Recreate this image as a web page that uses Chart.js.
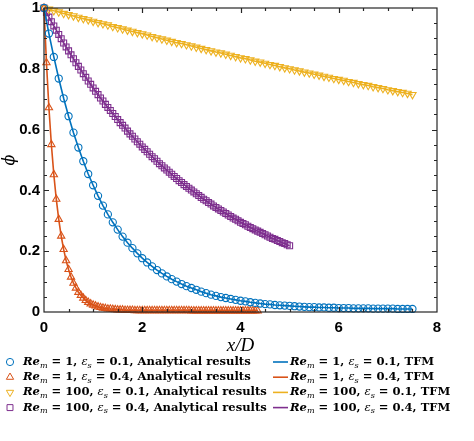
<!DOCTYPE html>
<html>
<head>
<meta charset="utf-8">
<script src="https://cdn.jsdelivr.net/npm/chart.js@4.4.1/dist/chart.umd.min.js"></script>
<style>
  html, body { margin: 0; padding: 0; background: #fff; }
  #wrap { position: relative; width: 474px; height: 441px; }
</style>
</head>
<body>
<div id="wrap"><canvas id="phiChart"></canvas></div>
<script>
// x/D sample points (0.1 step up to 7.5, 0.05 step up to 5)
const xGridA = [
  0, 0.1, 0.2, 0.3, 0.4, 0.5, 0.6, 0.7, 0.8, 0.9,
  1.0, 1.1, 1.2, 1.3, 1.4, 1.5, 1.6, 1.7, 1.8, 1.9,
  2.0, 2.1, 2.2, 2.3, 2.4, 2.5, 2.6, 2.7, 2.8, 2.9,
  3.0, 3.1, 3.2, 3.3, 3.4, 3.5, 3.6, 3.7, 3.8, 3.9,
  4.0, 4.1, 4.2, 4.3, 4.4, 4.5, 4.6, 4.7, 4.8, 4.9,
  5.0, 5.1, 5.2, 5.3, 5.4, 5.5, 5.6, 5.7, 5.8, 5.9,
  6.0, 6.1, 6.2, 6.3, 6.4, 6.5, 6.6, 6.7, 6.8, 6.9,
  7.0, 7.1, 7.2, 7.3, 7.4, 7.5
];
const xGridB = [
  0, 0.05, 0.1, 0.15, 0.2, 0.25, 0.3, 0.35, 0.4, 0.45,
  0.5, 0.55, 0.6, 0.65, 0.7, 0.75, 0.8, 0.85, 0.9, 0.95,
  1.0, 1.05, 1.1, 1.15, 1.2, 1.25, 1.3, 1.35, 1.4, 1.45,
  1.5, 1.55, 1.6, 1.65, 1.7, 1.75, 1.8, 1.85, 1.9, 1.95,
  2.0, 2.05, 2.1, 2.15, 2.2, 2.25, 2.3, 2.35, 2.4, 2.45,
  2.5, 2.55, 2.6, 2.65, 2.7, 2.75, 2.8, 2.85, 2.9, 2.95,
  3.0, 3.05, 3.1, 3.15, 3.2, 3.25, 3.3, 3.35, 3.4, 3.45,
  3.5, 3.55, 3.6, 3.65, 3.7, 3.75, 3.8, 3.85, 3.9, 3.95,
  4.0, 4.05, 4.1, 4.15, 4.2, 4.25, 4.3, 4.35, 4.4, 4.45,
  4.5, 4.55, 4.6, 4.65, 4.7, 4.75, 4.8, 4.85, 4.9, 4.95,
  5.0
];

// phi
// Re_m = 1, eps_s = 0.1  (on xGridA)
const phiRe1Eps01 = [
  1.000, 0.916, 0.839, 0.768, 0.703, 0.644, 0.590, 0.541, 0.496, 0.454,
  0.417, 0.382, 0.350, 0.321, 0.295, 0.271, 0.248, 0.228, 0.210, 0.193,
  0.177, 0.163, 0.150, 0.138, 0.127, 0.117, 0.108, 0.100, 0.092, 0.085,
  0.079, 0.073, 0.067, 0.062, 0.057, 0.053, 0.049, 0.046, 0.043, 0.040,
  0.037, 0.035, 0.032, 0.030, 0.028, 0.026, 0.025, 0.023, 0.022, 0.021,
  0.020, 0.019, 0.018, 0.017, 0.016, 0.016, 0.015, 0.015, 0.014, 0.014,
  0.013, 0.013, 0.013, 0.012, 0.012, 0.012, 0.012, 0.011, 0.011, 0.011,
  0.011, 0.011, 0.010, 0.010, 0.010, 0.010
];
// Re_m = 1, eps_s = 0.4  (on xGridB, up to 4.35)
const phiRe1Eps04 = [
  1.000, 0.820, 0.672, 0.551, 0.452, 0.371, 0.305, 0.250, 0.206, 0.169,
  0.140, 0.115, 0.095, 0.079, 0.065, 0.055, 0.046, 0.038, 0.032, 0.027,
  0.023, 0.020, 0.017, 0.015, 0.013, 0.012, 0.010, 0.010, 0.009, 0.008,
  0.007, 0.007, 0.007, 0.006, 0.006, 0.006, 0.006, 0.005, 0.005, 0.005,
  0.005, 0.005, 0.005, 0.005, 0.005, 0.005, 0.005, 0.005, 0.005, 0.005,
  0.005, 0.005, 0.005, 0.005, 0.005, 0.005, 0.005, 0.005, 0.005, 0.005,
  0.004, 0.004, 0.004, 0.004, 0.004, 0.004, 0.004, 0.004, 0.004, 0.004,
  0.004, 0.004, 0.004, 0.004, 0.004, 0.004, 0.004, 0.004, 0.004, 0.004,
  0.004, 0.004, 0.004, 0.004, 0.004, 0.004, 0.004, 0.004
];
// Re_m = 100, eps_s = 0.1  (on xGridA)
const phiRe100Eps01 = [
  1.000, 0.996, 0.991, 0.987, 0.982, 0.978, 0.974, 0.969, 0.965, 0.961,
  0.956, 0.952, 0.948, 0.944, 0.939, 0.935, 0.931, 0.927, 0.923, 0.919,
  0.915, 0.911, 0.906, 0.902, 0.898, 0.894, 0.890, 0.886, 0.883, 0.879,
  0.875, 0.871, 0.867, 0.863, 0.859, 0.855, 0.852, 0.848, 0.844, 0.840,
  0.836, 0.833, 0.829, 0.825, 0.822, 0.818, 0.814, 0.811, 0.807, 0.803,
  0.800, 0.796, 0.793, 0.789, 0.786, 0.782, 0.779, 0.775, 0.772, 0.768,
  0.765, 0.762, 0.758, 0.755, 0.751, 0.748, 0.745, 0.741, 0.738, 0.735,
  0.731, 0.728, 0.725, 0.722, 0.719, 0.715
];
// Re_m = 100, eps_s = 0.4  (on xGridB)
const phiRe100Eps04 = [
  1.000, 0.985, 0.970, 0.955, 0.941, 0.927, 0.913, 0.899, 0.885, 0.872,
  0.859, 0.846, 0.833, 0.820, 0.808, 0.796, 0.784, 0.772, 0.760, 0.749,
  0.737, 0.726, 0.715, 0.704, 0.694, 0.683, 0.673, 0.663, 0.653, 0.643,
  0.633, 0.623, 0.614, 0.605, 0.595, 0.586, 0.578, 0.569, 0.560, 0.552,
  0.543, 0.535, 0.527, 0.519, 0.511, 0.504, 0.496, 0.488, 0.481, 0.474,
  0.467, 0.460, 0.453, 0.446, 0.439, 0.432, 0.426, 0.419, 0.413, 0.407,
  0.401, 0.395, 0.389, 0.383, 0.377, 0.371, 0.366, 0.360, 0.355, 0.349,
  0.344, 0.339, 0.334, 0.329, 0.324, 0.319, 0.314, 0.309, 0.305, 0.300,
  0.295, 0.291, 0.287, 0.282, 0.278, 0.274, 0.270, 0.266, 0.262, 0.258,
  0.254, 0.250, 0.246, 0.242, 0.239, 0.235, 0.232, 0.228, 0.225, 0.221,
  0.218
];

const xTicks = [0, 2, 4, 6, 8];
const yTicks = [0, 0.2, 0.4, 0.6, 0.8, 1];
const reValues = ['1', '1', '100', '100'];
const epsValues = ['0.1', '0.4', '0.1', '0.4'];

// MATLAB default colours
const colors = ['#0072BD', '#D95319', '#EDB120', '#7E2F8E'];
const markers = [
  { style: 'circle', rot: 0, r: 3.6 },
  { style: 'triangle', rot: 0, r: 4.2 },
  { style: 'triangle', rot: 180, r: 4.2 },
  { style: 'rect', rot: 0, r: 4.2 }
];

const toPoints = (xs, ys) => ys.map((v, i) => ({ x: xs[i], y: v }));
const seriesPts = [
  toPoints(xGridA, phiRe1Eps01),
  toPoints(xGridB, phiRe1Eps04),
  toPoints(xGridA, phiRe100Eps01),
  toPoints(xGridB, phiRe100Eps04)
];

const datasets = [];
seriesPts.forEach((pts, i) => {
  // 解析解 (markers)
  datasets.push({
    label: `Re_m = ${reValues[i]}, eps_s = ${epsValues[i]}, Analytical results`,
    data: pts,
    showLine: false,
    pointStyle: markers[i].style,
    pointRotation: markers[i].rot,
    pointRadius: markers[i].r,
    pointBorderWidth: 1.1,
    pointBorderColor: colors[i],
    pointBackgroundColor: 'rgba(0,0,0,0)',
    borderColor: colors[i],
    clip: false
  });
  // TFM (lines)
  datasets.push({
    label: `Re_m = ${reValues[i]}, eps_s = ${epsValues[i]}, TFM`,
    data: pts,
    showLine: true,
    pointRadius: 0,
    borderWidth: 1.6,
    borderColor: colors[i],
    tension: 0,
    clip: false
  });
});

// 枠と内向きの目盛り (MATLAB風)
const matlabAxes = {
  id: 'matlabAxes',
  afterDatasetsDraw(chart) {
    const { ctx, chartArea: a, scales: { x, y } } = chart;
    ctx.save();
    ctx.strokeStyle = '#262626';
    ctx.lineWidth = 1.2;
    ctx.strokeRect(a.left, a.top, a.right - a.left, a.bottom - a.top);
    ctx.beginPath();
    const xTick = (v, len) => {
      const px = Math.round(x.getPixelForValue(v)) + 0.5;
      ctx.moveTo(px, a.bottom); ctx.lineTo(px, a.bottom - len);
      ctx.moveTo(px, a.top); ctx.lineTo(px, a.top + len);
    };
    const yTick = (v, len) => {
      const py = Math.round(y.getPixelForValue(v)) + 0.5;
      ctx.moveTo(a.left, py); ctx.lineTo(a.left + len, py);
      ctx.moveTo(a.right, py); ctx.lineTo(a.right - len, py);
    };
    for (let v = 0.5; v < 8; v += 0.5) xTick(v, xTicks.includes(v) ? 5 : 3);
    for (let k = 1; k < 20; k++) {
      const v = k * 0.05;
      yTick(v, k % 4 === 0 ? 5 : 3);
    }
    ctx.stroke();
    ctx.restore();
  }
};

// 凡例 (2列、下付き文字つき)
function legendParts(i, tail) {
  return [
    ['Re', 'bold italic'], ['m', 'sub'], [` = ${reValues[i]}, `, 'bold'],
    ['\u03b5', 'italic'], ['s', 'sub'], [` = ${epsValues[i]}, ${tail}`, 'bold']
  ];
}
const legendFamily = '"DejaVu Serif"';
function drawParts(ctx, parts, x, y, size, draw) {
  let cx = x;
  parts.forEach(([t, st]) => {
    const sub = st === 'sub';
    const fs = sub ? size * 0.7 : size;
    ctx.font = `${sub ? 'italic' : st} ${fs}px ${legendFamily}`;
    if (draw) ctx.fillText(t, cx, sub ? y + size * 0.32 : y);
    cx += ctx.measureText(t).width;
  });
  return cx - x;
}
function drawMarker(ctx, i, x, y) {
  const m = markers[i];
  const r = m.r;
  ctx.beginPath();
  if (m.style === 'circle') {
    ctx.arc(x, y, r, 0, Math.PI * 2);
  } else if (m.style === 'rect') {
    const h = r * Math.SQRT1_2;
    ctx.rect(x - h, y - h, 2 * h, 2 * h);
  } else {
    const s = m.rot ? -1 : 1;
    ctx.moveTo(x, y - s * r);
    ctx.lineTo(x + r * 0.87, y + s * r * 0.5);
    ctx.lineTo(x - r * 0.87, y + s * r * 0.5);
    ctx.closePath();
  }
  ctx.stroke();
}
const mathLegend = {
  id: 'mathLegend',
  afterDraw(chart) {
    const { ctx } = chart;
    ctx.save();
    ctx.textBaseline = 'middle';
    ctx.fillStyle = '#000';
    // fit the longest left entry into its column
    const w = drawParts(ctx, legendParts(2, 'Analytical results'), 0, 0, 14, false);
    const size = 14 * 244 / w;
    for (let i = 0; i < 4; i++) {
      const y = 362 + 15.2 * i;
      ctx.strokeStyle = colors[i];
      ctx.lineWidth = 1;
      drawMarker(ctx, i, 10, y);
      ctx.fillStyle = '#000';
      drawParts(ctx, legendParts(i, 'Analytical results'), 23, y, size, true);
      ctx.strokeStyle = colors[i];
      ctx.lineWidth = 1.6;
      ctx.beginPath();
      ctx.moveTo(273, y); ctx.lineTo(288, y);
      ctx.stroke();
      drawParts(ctx, legendParts(i, 'TFM'), 290, y, size, true);
    }
    ctx.restore();
  }
};

const tickFont = { family: '"Liberation Sans", Arial, sans-serif', size: 15, weight: 'bold' };

new Chart(document.getElementById('phiChart'), {
  type: 'scatter',
  data: { datasets },
  options: {
    responsive: true,
    maintainAspectRatio: false,
    animation: false,
    layout: { padding: { left: 0, right: 37, top: 8, bottom: 84 } },
    plugins: { legend: { display: false }, tooltip: { enabled: false } },
    scales: {
      x: {
        type: 'linear',
        min: 0, max: 8,
        afterBuildTicks: s => { s.ticks = xTicks.map(v => ({ value: v })); },
        afterFit: s => { s.height = 45; s.paddingRight = 0; s.paddingLeft = 0; },
        grid: { display: false, drawTicks: false },
        border: { display: false },
        ticks: { color: '#000', font: tickFont, padding: 7, maxRotation: 0 },
        title: {
          display: true, text: 'x/D', color: '#000',
          font: { family: '"Liberation Serif", serif', size: 19, style: 'italic' },
          padding: 0
        }
      },
      y: {
        type: 'linear',
        min: 0, max: 1,
        afterBuildTicks: s => { s.ticks = yTicks.map(v => ({ value: v })); },
        afterFit: s => { s.width = 44; s.paddingTop = 0; s.paddingBottom = 0; },
        grid: { display: false, drawTicks: false },
        border: { display: false },
        ticks: {
          color: '#000', font: tickFont, padding: 4,
          callback: v => String(Number(v.toFixed(1)))
        },
        title: {
          display: true, text: '\u03d5', color: '#000',
          font: { family: '"DejaVu Serif", serif', size: 16, style: 'italic' },
          padding: 0
        }
      }
    }
  },
  plugins: [matlabAxes, mathLegend]
});
</script>
</body>
</html>
